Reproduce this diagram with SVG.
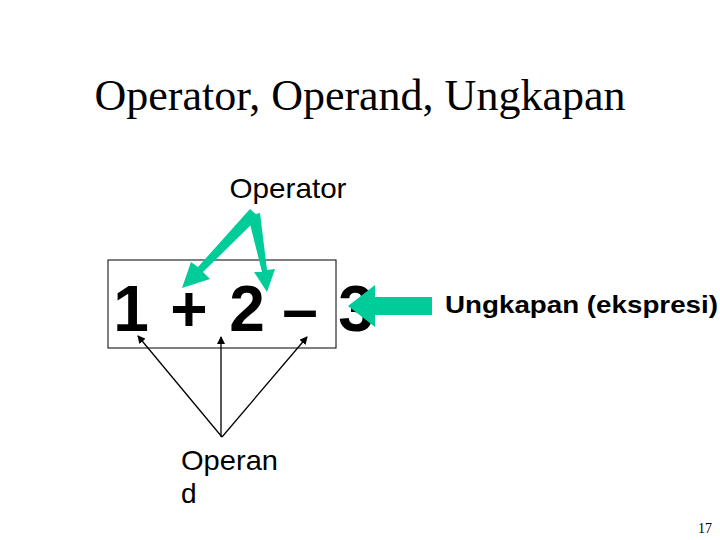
<svg xmlns="http://www.w3.org/2000/svg" width="720" height="540" viewBox="0 0 720 540">
<style>
.t{font-family:"Liberation Sans",Arial,sans-serif;fill:#000}
.big{font-family:"Liberation Sans",Arial,sans-serif;font-size:64px;font-weight:bold;text-anchor:middle}
.fat{fill:#00cc99}
.thin{stroke:#000;stroke-width:1.3;fill:none;marker-end:url(#a)}
</style>
<defs><marker id="a" markerWidth="8" markerHeight="8" refX="7" refY="4" orient="auto" markerUnits="userSpaceOnUse"><path d="M0,0L8,4L0,8z" fill="#000"/></marker></defs>
<rect width="720" height="540" fill="#fff"/>
<text x="360" y="110" text-anchor="middle" font-family="Liberation Serif,serif" font-size="44">Operator, Operand, Ungkapan</text>
<g id="operator"><text class="t" x="288" y="198" text-anchor="middle" font-size="28" textLength="117" lengthAdjust="spacingAndGlyphs">Operator</text></g>
<g id="expr"><rect x="108" y="260" width="228" height="88" fill="none" stroke="#000" stroke-width="1"/>
<text class="big" x="131" y="331">1</text><text class="big" x="189" y="331">+</text><text class="big" x="247" y="331">2</text><text class="big" x="300" y="331">–</text><text class="big" x="356" y="331">3</text></g>
<g id="ungkapan"><text class="t" x="445" y="313" font-size="24" font-weight="bold" textLength="273" lengthAdjust="spacingAndGlyphs">Ungkapan (ekspresi)</text></g>
<g id="operand"><text class="t" x="181" y="470" font-size="28" textLength="97" lengthAdjust="spacingAndGlyphs">Operan</text><text class="t" x="181" y="503" font-size="28">d</text></g>
<text x="712" y="533" font-family="Liberation Serif,serif" font-size="14" text-anchor="end">17</text>
<g id="connectors">
<polygon class="fat" points="250,209 259,217 203,272 210,279 182,288 191,262 198,267"/>
<polygon class="fat" points="248,216 260,213 267,270 275,269 267,292 254,272 262,272"/>
<polygon class="fat" points="432,297 432,315 375,315 375,327 348,306 375,285 375,297"/>
<path class="thin" d="M222,437L138,336"/>
<path class="thin" d="M221,437L221,337"/>
<path class="thin" d="M222,437L307,337"/>
</g>
</svg>
